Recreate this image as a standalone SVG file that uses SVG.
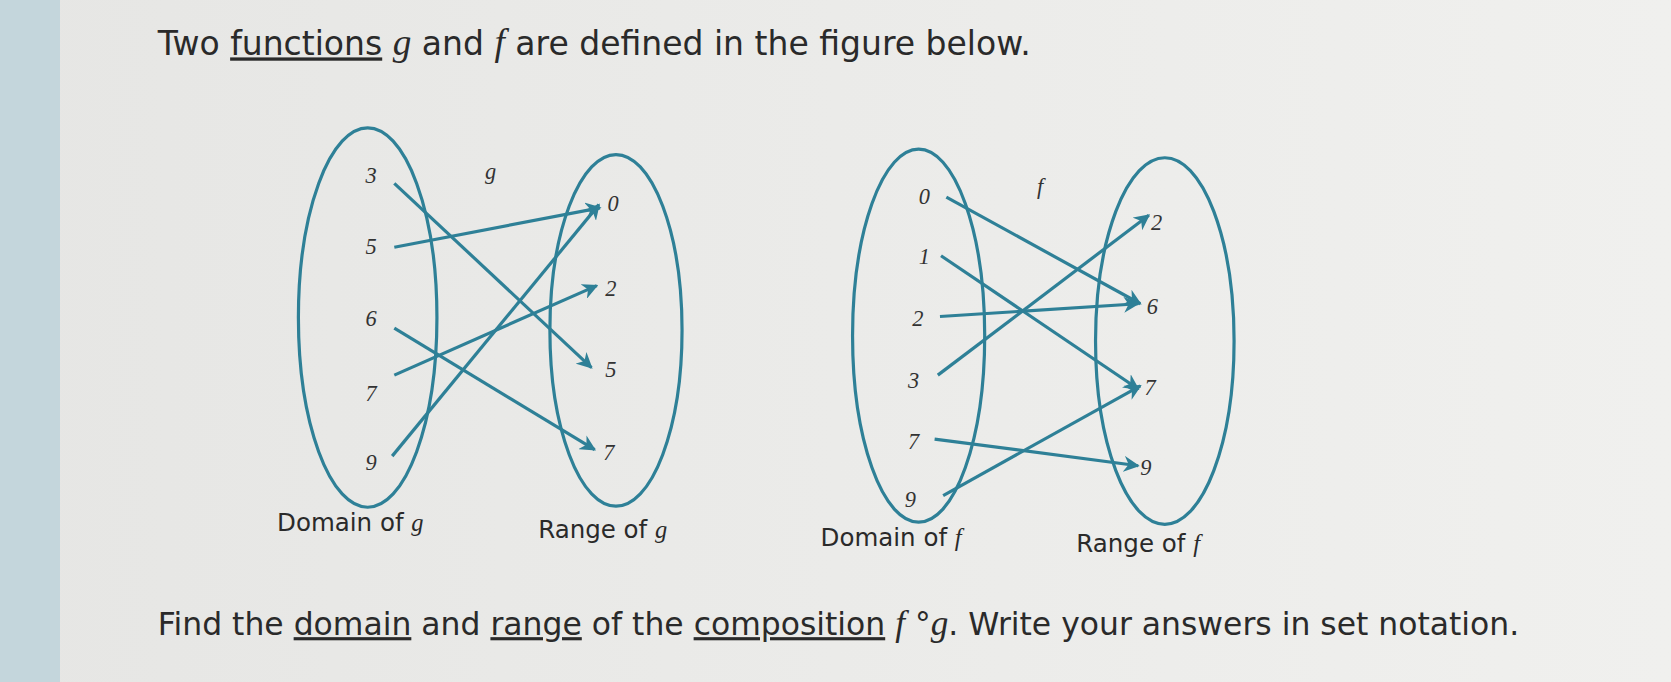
<svg xmlns="http://www.w3.org/2000/svg" width="1671" height="682" viewBox="0 0 1671 682">
<defs>
<linearGradient id="bg" x1="0" y1="0" x2="1" y2="0"><stop offset="0" stop-color="#e6e6e4"/><stop offset="1" stop-color="#f0f0ee"/></linearGradient>
<marker id="ah" viewBox="0 0 10 10" refX="9" refY="5" markerWidth="5" markerHeight="5" orient="auto"><path d="M0,0 L10,5 L0,10 L3,5 z" fill="#2e8097"/></marker>
<style>
.t{font-family:"DejaVu Sans",sans-serif;fill:#2a2a2a}
.n{font-family:"Liberation Serif",serif;font-style:italic;font-size:21px;fill:#333}
.e{fill:none;stroke:#2e8097;stroke-width:3}
.a{stroke:#2e8097;stroke-width:3;marker-end:url(#ah)}
.ul{text-decoration:underline}
</style>
</defs>
<rect width="1671" height="682" fill="url(#bg)"/>
<rect width="60" height="682" fill="#c4d6dc"/>
<g transform="scale(1.0657)">
<g id="header"><text class="t" x="148" y="52" font-size="31">Two <tspan class="ul">functions</tspan> <tspan font-family="Liberation Serif" font-style="italic" font-size="35">g</tspan> and <tspan font-family="Liberation Serif" font-style="italic" font-size="35">f</tspan> are defined in the figure below.</text></g>
<g id="g-domain"><ellipse class="e" cx="345" cy="298" rx="65" ry="178"/>
<text class="n" x="343" y="172">3</text><text class="n" x="343" y="238">5</text><text class="n" x="343" y="306">6</text><text class="n" x="343" y="376">7</text><text class="n" x="343" y="441">9</text></g>
<g id="g-range"><ellipse class="e" cx="578" cy="310" rx="62" ry="165"/>
<text class="n" x="570" y="198">0</text><text class="n" x="568" y="278">2</text><text class="n" x="568" y="354">5</text><text class="n" x="566" y="432">7</text></g>
<g id="f-domain"><ellipse class="e" cx="862" cy="315" rx="62" ry="175"/>
<text class="n" x="862" y="191">0</text><text class="n" x="862" y="248">1</text><text class="n" x="856" y="306">2</text><text class="n" x="852" y="364">3</text><text class="n" x="852" y="421">7</text><text class="n" x="849" y="476">9</text></g>
<g id="f-range"><ellipse class="e" cx="1093" cy="320" rx="65" ry="172"/>
<text class="n" x="1080" y="216">2</text><text class="n" x="1076" y="295">6</text><text class="n" x="1074" y="371">7</text><text class="n" x="1070" y="446">9</text></g>
<g id="connectors">
<line class="a" x1="370" y1="172" x2="555" y2="345"/>
<line class="a" x1="370" y1="232" x2="563" y2="195"/>
<line class="a" x1="370" y1="308" x2="558" y2="422"/>
<line class="a" x1="370" y1="352" x2="560" y2="268"/>
<line class="a" x1="368" y1="428" x2="562" y2="192"/>
<line class="a" x1="888" y1="185" x2="1070" y2="285"/>
<line class="a" x1="883" y1="240" x2="1068" y2="365"/>
<line class="a" x1="882" y1="297" x2="1068" y2="285"/>
<line class="a" x1="880" y1="352" x2="1078" y2="202"/>
<line class="a" x1="877" y1="412" x2="1068" y2="437"/>
<line class="a" x1="885" y1="465" x2="1070" y2="362"/>
</g>
<g id="labels">
<text class="n" x="455" y="168" font-size="22">g</text>
<text class="n" x="973" y="182" font-size="22">f</text>
<text class="t" x="260" y="498" font-size="23">Domain of <tspan font-family="Liberation Serif" font-style="italic">g</tspan></text>
<text class="t" x="505" y="505" font-size="23">Range of <tspan font-family="Liberation Serif" font-style="italic">g</tspan></text>
<text class="t" x="770" y="512" font-size="23">Domain of <tspan font-family="Liberation Serif" font-style="italic">f</tspan></text>
<text class="t" x="1010" y="518" font-size="23">Range of <tspan font-family="Liberation Serif" font-style="italic">f</tspan></text>
</g>
<g id="question"><text class="t" x="148" y="596" font-size="29.5">Find the <tspan class="ul">domain</tspan> and <tspan class="ul">range</tspan> of the <tspan class="ul">composition</tspan> <tspan font-family="Liberation Serif" font-style="italic" font-size="33">f</tspan> °<tspan font-family="Liberation Serif" font-style="italic" font-size="33">g</tspan>. Write your answers in set notation.</text></g>
</g>
</svg>
